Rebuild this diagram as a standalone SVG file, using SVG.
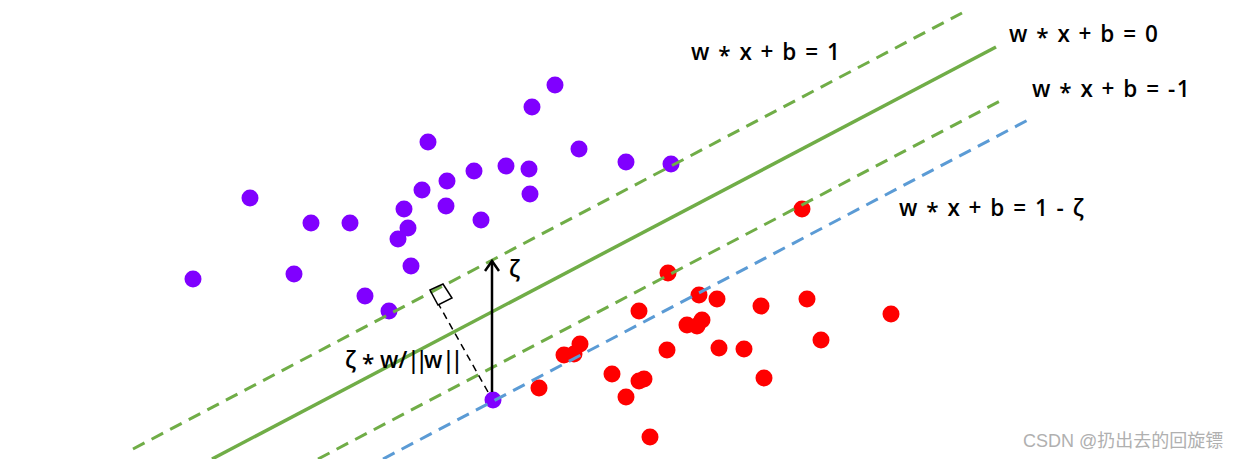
<svg xmlns="http://www.w3.org/2000/svg" width="1251" height="459" viewBox="0 0 1251 459">
<style>
.p{fill:#8000FF}
.r{fill:#FF0000}
.gd{stroke:#70AD47;stroke-width:3;stroke-dasharray:13 8;fill:none}
.bd{stroke:#5B9BD5;stroke-width:3;stroke-dasharray:13 8;fill:none}
.t{font-family:"Open Sans","Liberation Sans",sans-serif;font-size:22.5px;fill:#000;font-weight:600;letter-spacing:1.5px}
.pp{letter-spacing:-4px}
</style>
<defs>
<marker id="ah" markerWidth="16" markerHeight="16" refX="12" refY="8" orient="auto" markerUnits="userSpaceOnUse" viewBox="0 0 16 16">
<path d="M2,1 L12,8 L2,15" fill="none" stroke="#000" stroke-width="2.5"/>
</marker>
</defs>
<rect width="1251" height="459" fill="#fff"/>
<g id="purple">
<circle class="p" cx="555" cy="85" r="8.5"/>
<circle class="p" cx="532" cy="107" r="8.5"/>
<circle class="p" cx="428" cy="142" r="8.5"/>
<circle class="p" cx="579" cy="149" r="8.5"/>
<circle class="p" cx="626" cy="162" r="8.5"/>
<circle class="p" cx="671" cy="164" r="8.5"/>
<circle class="p" cx="250" cy="198" r="8.5"/>
<circle class="p" cx="474" cy="171" r="8.5"/>
<circle class="p" cx="506" cy="166" r="8.5"/>
<circle class="p" cx="529" cy="169" r="8.5"/>
<circle class="p" cx="447" cy="181" r="8.5"/>
<circle class="p" cx="422" cy="190" r="8.5"/>
<circle class="p" cx="530" cy="194" r="8.5"/>
<circle class="p" cx="446" cy="206" r="8.5"/>
<circle class="p" cx="404" cy="209" r="8.5"/>
<circle class="p" cx="481" cy="220" r="8.5"/>
<circle class="p" cx="311" cy="223" r="8.5"/>
<circle class="p" cx="350" cy="223" r="8.5"/>
<circle class="p" cx="408" cy="228" r="8.5"/>
<circle class="p" cx="398" cy="239" r="8.5"/>
<circle class="p" cx="411" cy="266" r="8.5"/>
<circle class="p" cx="193" cy="279" r="8.5"/>
<circle class="p" cx="294" cy="274" r="8.5"/>
<circle class="p" cx="365" cy="296" r="8.5"/>
<circle class="p" cx="389" cy="311" r="8.5"/>
<circle class="p" cx="493" cy="400" r="8.5"/>
</g>
<g id="red">
<circle class="r" cx="802" cy="209" r="8.5"/>
<circle class="r" cx="668" cy="273" r="8.5"/>
<circle class="r" cx="699" cy="295" r="8.5"/>
<circle class="r" cx="717" cy="299" r="8.5"/>
<circle class="r" cx="761" cy="306" r="8.5"/>
<circle class="r" cx="807" cy="299" r="8.5"/>
<circle class="r" cx="891" cy="314" r="8.5"/>
<circle class="r" cx="639" cy="311" r="8.5"/>
<circle class="r" cx="702" cy="320" r="8.5"/>
<circle class="r" cx="687" cy="325" r="8.5"/>
<circle class="r" cx="697" cy="326" r="8.5"/>
<circle class="r" cx="580" cy="344" r="8.5"/>
<circle class="r" cx="564" cy="355" r="8.5"/>
<circle class="r" cx="574" cy="354" r="8.5"/>
<circle class="r" cx="667" cy="350" r="8.5"/>
<circle class="r" cx="719" cy="348" r="8.5"/>
<circle class="r" cx="744" cy="349" r="8.5"/>
<circle class="r" cx="821" cy="340" r="8.5"/>
<circle class="r" cx="612" cy="374" r="8.5"/>
<circle class="r" cx="644" cy="379" r="8.5"/>
<circle class="r" cx="639" cy="381" r="8.5"/>
<circle class="r" cx="764" cy="378" r="8.5"/>
<circle class="r" cx="626" cy="397" r="8.5"/>
<circle class="r" cx="650" cy="437" r="8.5"/>
<circle class="r" cx="539" cy="388" r="8.5"/>
</g>
<g id="connectors">
<line class="gd" x1="133" y1="449" x2="962" y2="13"/>
<line x1="212" y1="459" x2="996" y2="47" stroke="#70AD47" stroke-width="3.5"/>
<line class="gd" x1="318" y1="459" x2="1000" y2="101"/>
<line class="bd" x1="383" y1="459" x2="1028" y2="120"/>
<line x1="488" y1="392" x2="439" y2="305" stroke="#000" stroke-width="1.5" stroke-dasharray="7 5"/>
<polygon points="430,290 443,284 452,298 438,305" fill="none" stroke="#000" stroke-width="1.5"/>
<line x1="492" y1="392" x2="492" y2="261" stroke="#000" stroke-width="2.5" marker-end="url(#ah)"/>
</g>
<g id="labels">
<text class="t" x="691" y="60">w <tspan dy="4">*</tspan><tspan dy="-4"> x + b = 1</tspan></text>
<text class="t" x="1009" y="42">w <tspan dy="4">*</tspan><tspan dy="-4"> x + b = 0</tspan></text>
<text class="t" x="1032" y="97">w <tspan dy="4">*</tspan><tspan dy="-4"> x + b = -1</tspan></text>
<text class="t" x="899" y="216">w <tspan dy="4">*</tspan><tspan dy="-4"> x + b = 1 - ζ</tspan></text>
<text class="t" x="345" y="368" style="letter-spacing:0px">ζ <tspan dy="4">*</tspan><tspan dy="-4"> w/<tspan class="pp">||</tspan>w<tspan class="pp">||</tspan></tspan></text>
<text class="t" x="509" y="277">ζ</text>
<text x="1023" y="447" font-family="'Liberation Sans','Noto Sans CJK SC',sans-serif" font-size="18" fill="#b0b0b0">CSDN @扔出去的回旋镖</text>
</g>
</svg>
